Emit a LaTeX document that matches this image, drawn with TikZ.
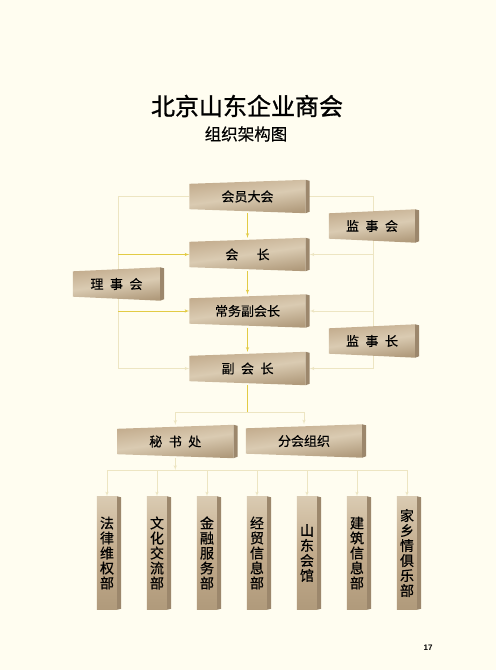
\documentclass[tikz,border=0pt]{standalone}
\usepackage{fontspec}
\newfontfamily\cjk[FakeBold=0.5]{Noto Sans CJK SC}
\newfontfamily\cjkt[FakeBold=1.2]{Noto Sans CJK SC}
\newfontfamily\numfont{Liberation Sans}
\usetikzlibrary{arrows, backgrounds}
\definecolor{paper}{HTML}{FFFDF0}
\definecolor{barA}{HTML}{C2AB8C}
\definecolor{barB}{HTML}{B09A7B}
\definecolor{barC}{HTML}{DACBB2}
\definecolor{barS}{HTML}{9C876C}
\definecolor{gold}{HTML}{E2CB45}
\definecolor{pale}{HTML}{EDE5C2}

\begin{document}
\begin{tikzpicture}[x=1pt,y=-1pt]

\tikzset{box/.style = {shape=rectangle,inner sep=0pt,minimum width=116pt,minimum height=33pt,text=black,font=\cjk\fontsize{13}{15}\selectfont}}
\tikzset{small/.style = {box,minimum width=86pt}}
\tikzset{bar/.style = {shape=rectangle,inner sep=0pt,minimum width=20pt,minimum height=113pt,align=center,text=black,font=\cjk\fontsize{14}{15}\selectfont}}
\tikzset{link/.style = {draw=gold,line width=0.6pt,> = latex'}}
\tikzset{frame/.style = {draw=pale,line width=0.6pt,->,> = latex'}}
\tikzset{front/.style = {top color=barA,bottom color=barB,middle color=barC,shading angle=8}}
\tikzset{post/.style = {top color=barC,bottom color=barB,middle color=barA}}

\useasboundingbox (0,0) rectangle (496,670);
%title
\node (tt) at (247,106) {\cjkt\fontsize{24}{28}\selectfont 北京山东企业商会};
\node (st) at (246,134) {\cjk\fontsize{16.5}{20}\selectfont 组织架构图};
\node (pg) at (428,648) {\numfont\bfseries\fontsize{8}{10}\selectfont 17};
%boxes
\node[box] (hy) at (247.5,196.5) {会员大会};
\node[box] (hz) at (247.5,254.5) {会\hspace{1.4em}长};
\node[box] (cw) at (247.5,311) {常务副会长};
\node[box] (fh) at (247.5,368.5) {副\hspace{0.5em}会\hspace{0.5em}长};
\node[small] (js) at (372,226) {监\hspace{0.5em}事\hspace{0.5em}会};
\node[small] (jz) at (372,341) {监\hspace{0.5em}事\hspace{0.5em}长};
\node[small,minimum width=87pt] (ls) at (116.5,284) {理\hspace{0.5em}事\hspace{0.5em}会};
\node[box] (ms) at (175.3,441.5) {秘\hspace{0.5em}书\hspace{0.5em}处};
\node[box] (fz) at (304,441) {分会组织};
%departments
\foreach \t [count=\i] in {法\\律\\维\\权\\部, 文\\化\\交\\流\\部, 金\\融\\服\\务\\部, 经\\贸\\信\\息\\部, 山\\东\\会\\馆, 建\\筑\\信\\息\\部, 家\\乡\\情\\俱\\乐\\部}
  \node[bar] (b\i) at (57+50*\i,553) {\t};

\begin{scope}[on background layer]
\fill[paper] (0,0) rectangle (496,670);
\coordinate (lf) at (118,0);
\coordinate (rf) at (373,0);
\coordinate (jt) at (247.5,412);
\coordinate (jb) at (175.3,470);
%edges
\draw[link,->] (hy.south) -- (hz.north);
\draw[link,->] (hz.south) -- (cw.north);
\draw[link,->] (cw.south) -- (fh.north);
\draw[link] (fh.south) -- (jt);
\draw[frame] (jt) -| (ms.north);
\draw[frame] (jt) -| (fz.north);
\draw[frame] (hy.west) -- (hy.west -| lf) |- (fh.west);
\draw[link,->] (hz.west -| lf) -- (hz.west);
\draw[link,->] (cw.west -| lf) -- (cw.west);
\draw[frame] (hy.east) -- (hy.east -| rf) |- ([xshift=4pt]fh.east);
\draw[frame] (hz.east -| rf) -- ([xshift=4pt]hz.east);
\draw[frame] (cw.east -| rf) -- ([xshift=4pt]cw.east);
\draw[frame] (ms.south) -- (jb);
\foreach \i in {1,...,7} \draw[frame] (jb) -| (b\i.north);
%faces
\foreach \n in {hy,hz,cw,fh,js,jz,ls,ms,fz} {
  \path[front] ([yshift=-4pt]\n.north west) -- (\n.north east) -- (\n.south east) -- ([yshift=4pt]\n.south west) -- cycle;
  \fill[barS] (\n.north east) -- ++(4pt,-1pt) -- ([shift={(4pt,1.5pt)}]\n.south east) -- (\n.south east) -- cycle;
}
\foreach \i in {1,...,7} {
  \path[post] (b\i.north west) rectangle (b\i.south east);
  \fill[barS] (b\i.north east) -- ++(4pt,-1pt) -- ([shift={(4pt,1pt)}]b\i.south east) -- (b\i.south east) -- cycle;
}
\end{scope}

\end{tikzpicture}
\end{document}
